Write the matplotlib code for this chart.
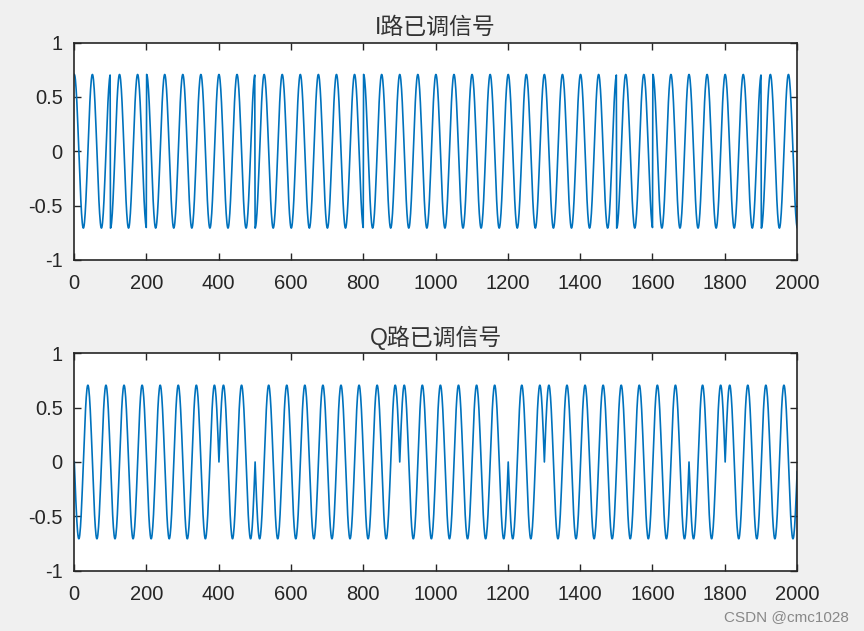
import numpy as np
import matplotlib.pyplot as plt

# symbol signs (20 symbols, 100 samples each)
i_bits = [1, -1, 1, 1, 1, -1, -1, -1, 1, 1, 1, 1, 1, 1, 1, -1, 1, 1, 1, -1]
q_bits = [-1, -1, -1, -1, 1, -1, -1, -1, -1, 1, 1, 1, -1, 1, 1, 1, 1, -1, 1, 1]
amp = 0.707
samples_per_symbol = 100
carrier_period = 50

xticks = list(range(0, 2001, 200))
yticks = [-1, -0.5, 0, 0.5, 1]
titles = ['I路已调信号', 'Q路已调信号']

plt.rcParams['font.family'] = ['Liberation Sans', 'Noto Sans CJK SC', 'DejaVu Sans']
plt.rcParams['axes.unicode_minus'] = False

n = np.arange(len(i_bits) * samples_per_symbol)
x = n + 1
phase = 2 * np.pi * n / carrier_period
i_sig = amp * np.repeat(i_bits, samples_per_symbol) * np.cos(phase)
q_sig = amp * np.repeat(q_bits, samples_per_symbol) * np.sin(phase)

fig = plt.figure(figsize=(8.64, 6.31), dpi=100, facecolor='#f0f0f0')
ax1 = fig.add_axes([0.0856, 0.588, 0.837, 0.3445])
ax2 = fig.add_axes([0.0856, 0.0956, 0.837, 0.3445])

for ax, sig, title in zip([ax1, ax2], [i_sig, q_sig], titles):
    ax.plot(x, sig, color='#0072BD', linewidth=1.2)
    ax.set_xlim(0, 2000)
    ax.set_ylim(-1, 1)
    ax.set_xticks(xticks)
    ax.set_yticks(yticks)
    ax.set_yticklabels(['-1', '-0.5', '0', '0.5', '1'])
    ax.tick_params(direction='in', length=5, width=1, colors='#262626',
                   labelsize=14.5, top=True, right=True)
    ax.tick_params(axis='x', pad=10)
    ax.tick_params(axis='y', pad=8)
    for s in ax.spines.values():
        s.set_color('#262626')
        s.set_linewidth(1.2)
    ax.set_title(title, fontsize=16.5, color='#333333', pad=6)

fig.text(0.982, 0.022, 'CSDN @cmc1028', ha='right', va='center',
         fontsize=11, color='#888888')

fig.savefig('out.png', dpi=100, facecolor=fig.get_facecolor())
